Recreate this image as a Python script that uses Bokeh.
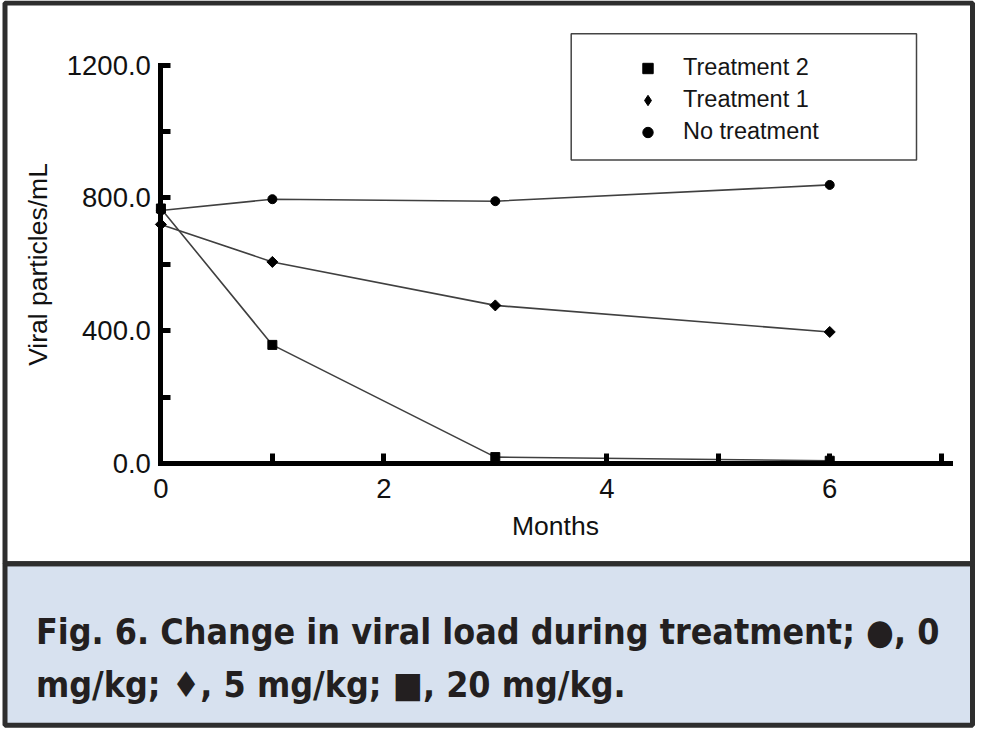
import math
from bokeh.plotting import figure
from bokeh.models import Range1d, FixedTicker, Legend, LegendItem
from bokeh.core.properties import value
from bokeh.embed import file_html
from bokeh.resources import INLINE

# ---------------- data ----------------
months = [0, 1, 3, 6]
no_treatment = [762, 796, 790, 839]
treatment_1 = [720, 607, 476, 396]
treatment_2 = [768, 357, 19, 8]

series_names = ["Treatment 2", "Treatment 1", "No treatment"]

x_ticks = [0, 1, 2, 3, 4, 5, 6, 7]
x_tick_labels = {0: "0", 2: "2", 4: "4", 6: "6"}
y_ticks = [0, 200, 400, 600, 800, 1000, 1200]
y_tick_labels = {0: "0.0", 400: "400.0", 800: "800.0", 1200: "1200.0"}

x_title = "Months"
y_title = "Viral particles/mL"
caption_lines = [
    "Fig. 6. Change in viral load during treatment; \u25cf, 0",
    "mg/kg; \u2666, 5 mg/kg; \u25a0, 20 mg/kg.",
]

# ---------------- layout (pixels) ----------------
W, H = 980, 732
X0_PX = 160.4              # pixel of month 0
PX_PER_MONTH = 111.47
Y0_PX = 462.9              # pixel (from top) of value 0
PX_PER_UNIT = (462.9 - 64.6) / 1200.0
X_AXIS_END = 7.088
Y_AXIS_END = 1200

x_range = Range1d(-X0_PX / PX_PER_MONTH, (W - X0_PX) / PX_PER_MONTH)
y_range = Range1d(-(H - Y0_PX) / PX_PER_UNIT, Y0_PX / PX_PER_UNIT)

p = figure(width=W, height=H, output_backend="svg", toolbar_location=None,
           x_range=x_range, y_range=y_range, min_border=0)
p.outline_line_color = None
p.grid.visible = False
p.background_fill_color = "white"
p.border_fill_color = "white"

# pixel-space ranges for the decorations (panel frame, caption box, legend box)
p.extra_x_ranges = {"px": Range1d(0, W)}
p.extra_y_ranges = {"py": Range1d(H, 0)}

BORDER = "#2e2e2e"
LEFT_B, RIGHT_B, TOP_B, MID_B, BOT_B = 4.5, 972.0, 2.5, 563.2, 724.7
p.quad(left=[LEFT_B], right=[RIGHT_B], top=[MID_B], bottom=[BOT_B],
       x_range_name="px", y_range_name="py",
       fill_color="#d7e1ef", line_color=BORDER, line_width=5)
p.quad(left=[LEFT_B], right=[RIGHT_B], top=[TOP_B], bottom=[MID_B],
       x_range_name="px", y_range_name="py",
       fill_color=None, line_color=BORDER, line_width=5)

# legend frame
p.quad(left=[570.7], right=[916.0], top=[33.3], bottom=[159.5],
       x_range_name="px", y_range_name="py",
       fill_color="white", line_color="#444444", line_width=1.5)

p.text(x=[35.4, 35.4], y=[631.2, 684.0], text=caption_lines,
       x_range_name="px", y_range_name="py",
       text_font=value("DejaVu Sans Condensed"), text_font_style="bold",
       text_font_size="35.5px", text_color="#231f20",
       text_baseline="alphabetic", text_align="left")

# ---------------- data marks ----------------
LINE = "#404040"
p.line(months, treatment_2, line_color=LINE, line_width=1.6)
p.line(months, treatment_1, line_color=LINE, line_width=1.6)
p.line(months, no_treatment, line_color=LINE, line_width=1.6)

r_sq = p.scatter(months, treatment_2, marker="square", size=9,
                 fill_color="black", line_color="black")
# diamonds of the reference are about as wide as they are tall
p.scatter(months, treatment_1, marker="square", angle=math.pi / 4, size=7.8,
          fill_color="black", line_color="black")
r_di = p.scatter(months, treatment_1, marker="diamond", size=0,
                 fill_color="black", line_color="black")
r_ci = p.scatter(months, no_treatment, marker="circle", size=9,
                 fill_color="black", line_color="black")

# ---------------- axes ----------------
xa = p.xaxis[0]
ya = p.yaxis[0]
xa.fixed_location = 0
ya.fixed_location = 0
xa.bounds = (0, X_AXIS_END)
ya.bounds = (0, Y_AXIS_END)
xa.ticker = FixedTicker(ticks=x_ticks)
ya.ticker = FixedTicker(ticks=y_ticks)
xa.major_label_overrides = {t: x_tick_labels.get(t, "") for t in x_ticks}
ya.major_label_overrides = {t: y_tick_labels.get(t, "") for t in y_ticks}
xa.axis_label = x_title
ya.axis_label = y_title

for ax in (xa, ya):
    ax.axis_line_width = 5
    ax.axis_line_color = "black"
    ax.axis_line_cap = "square"
    ax.major_tick_in = 10
    ax.major_tick_out = 0
    ax.major_tick_line_width = 5
    ax.major_tick_line_color = "black"
    ax.minor_tick_line_color = None
    ax.major_label_text_font = "Liberation Sans"
    ax.major_label_text_font_size = "27.5px"
    ax.major_label_text_color = "#111111"
    ax.axis_label_text_font = "Liberation Sans"
    ax.axis_label_text_font_size = "26.5px"
    ax.axis_label_text_font_style = "normal"
    ax.axis_label_text_color = "#111111"

xa.major_label_standoff = 16
ya.major_label_standoff = 10
xa.axis_label_standoff = 9
ya.axis_label_standoff = 10

# ---------------- legend ----------------
legend = Legend(items=[
    LegendItem(label=series_names[0], renderers=[r_sq]),
    LegendItem(label=series_names[1], renderers=[r_di]),
    LegendItem(label=series_names[2], renderers=[r_ci]),
], location=(612, 587))
legend.margin = 0
legend.padding = 0
legend.spacing = 5
legend.glyph_width = 71
legend.glyph_height = 26
legend.label_height = 26
legend.label_standoff = 0
legend.border_line_color = None
legend.background_fill_alpha = 0.0
legend.label_text_font = "Liberation Sans"
legend.label_text_font_size = "23.5px"
legend.label_text_color = "#151515"
p.add_layout(legend)

open("out.html", "w").write(file_html(p, INLINE))
